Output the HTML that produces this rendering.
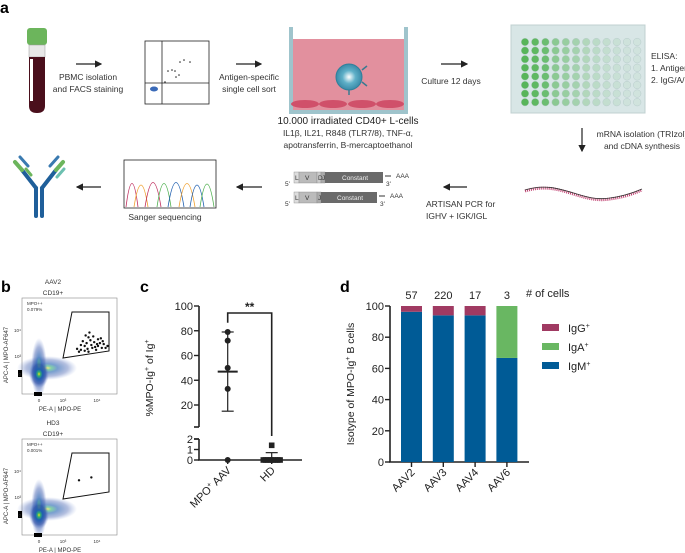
<!DOCTYPE html>
<html><head><meta charset="utf-8"><style>
html,body{margin:0;padding:0;background:#fff;}
svg{display:block;font-family:"Liberation Sans",Arial,sans-serif;}
</style></head><body>
<svg id="fig" width="685" height="553" viewBox="0 0 685 553">
<defs>
<marker id="ah" markerWidth="6" markerHeight="6" refX="5" refY="3" orient="auto"><path d="M0,0 L6,3 L0,6 z" fill="#222"/></marker>
<radialGradient id="blob" cx="50%" cy="50%" r="50%">
<stop offset="0" stop-color="#f0e020"/><stop offset="0.15" stop-color="#30b070"/><stop offset="0.35" stop-color="#1f5fb0"/><stop offset="0.7" stop-color="#3050a8" stop-opacity="0.6"/><stop offset="1" stop-color="#6080d0" stop-opacity="0"/></radialGradient>
<radialGradient id="cellg" cx="50%" cy="50%" r="50%"><stop offset="0" stop-color="#fff"/><stop offset="0.5" stop-color="#5fb0c8"/><stop offset="1" stop-color="#3a8aa8"/></radialGradient>
</defs>

<!-- Panel a -->
<text x="0" y="13" font-size="16" font-weight="bold">a</text>
<g>
<rect x="27" y="28" width="20" height="17" rx="3" fill="#6cb55c"/>
<rect x="29" y="45" width="16" height="12" fill="#e8e8e8" stroke="#999" stroke-width="0.5"/>
<path d="M29,57 L45,57 L45,106 Q45,113 37,113 Q29,113 29,106 Z" fill="#4a0f1c"/>
<rect x="30" y="59" width="3" height="42" fill="#fff"/>
</g>
<line x1="76" y1="64" x2="101" y2="64" stroke="#222" stroke-width="1.2" marker-end="url(#ah)"/>
<text x="88" y="80" font-size="8.5" text-anchor="middle" fill="#333"><tspan x="88">PBMC isolation</tspan><tspan x="88" dy="12">and FACS staining</tspan></text>
<g>
<rect x="145" y="41" width="64" height="63" fill="#fff" stroke="#222" stroke-width="0.8"/>
<line x1="162" y1="41" x2="162" y2="104" stroke="#222" stroke-width="0.8"/>
<line x1="145" y1="83" x2="209" y2="83" stroke="#222" stroke-width="0.8"/>
<ellipse cx="154" cy="89" rx="4" ry="2.5" fill="#3a6ab8"/>
<circle cx="168" cy="71" r="0.8" fill="#222"/><circle cx="172" cy="70" r="0.8" fill="#222"/><circle cx="175" cy="71" r="0.8" fill="#222"/><circle cx="180" cy="62" r="0.8" fill="#222"/><circle cx="184" cy="60" r="0.8" fill="#222"/><circle cx="179" cy="75" r="0.8" fill="#222"/><circle cx="176" cy="77" r="0.8" fill="#222"/><circle cx="190" cy="62" r="0.8" fill="#222"/><circle cx="165" cy="82" r="0.8" fill="#222"/>
</g>
<line x1="236" y1="64" x2="261" y2="64" stroke="#222" stroke-width="1.2" marker-end="url(#ah)"/>
<text font-size="8.5" text-anchor="middle" fill="#333"><tspan x="249" y="80">Antigen-specific</tspan><tspan x="249" dy="12">single cell sort</tspan></text>
<g>
<rect x="291" y="39" width="115" height="73" fill="#e2909e"/>
<path d="M291,27 L291,112 L406,112 L406,27" fill="none" stroke="#9fc4cc" stroke-width="4"/>
<ellipse cx="305" cy="104" rx="14" ry="4" fill="#d0506a"/><ellipse cx="333" cy="104" rx="14" ry="4" fill="#d0506a"/><ellipse cx="362" cy="104" rx="14" ry="4" fill="#d0506a"/><ellipse cx="390" cy="104" rx="14" ry="4" fill="#d0506a"/>
<circle cx="349" cy="77" r="13" fill="url(#cellg)" stroke="#2f7f9a" stroke-width="1"/>
<path d="M362,70 l5,-4 M362,82 l5,4 M349,90 l0,5" stroke="#3a7a90" stroke-width="1.5"/>
</g>
<text font-size="10" text-anchor="middle" fill="#222"><tspan x="348" y="124">10.000 irradiated CD40+ L-cells</tspan></text>
<text font-size="8.5" text-anchor="middle" fill="#333"><tspan x="348" y="136">IL1β, IL21, R848 (TLR7/8), TNF-α,</tspan><tspan x="348" dy="12">apotransferrin, B-mercaptoethanol</tspan></text>
<line x1="441" y1="64" x2="467" y2="64" stroke="#222" stroke-width="1.2" marker-end="url(#ah)"/>
<text x="451" y="84" font-size="8.5" text-anchor="middle" fill="#333">Culture 12 days</text>
<g id="plate"><rect x="511" y="25" width="134" height="88" fill="#d8e6e6" stroke="#c0d0d0"/></g>
<text font-size="8.5" fill="#333"><tspan x="651" y="59">ELISA:</tspan><tspan x="651" dy="12">1. Antigen</tspan><tspan x="651" dy="12">2. IgG/A/M</tspan></text>
<line x1="582" y1="128" x2="582" y2="151" stroke="#222" stroke-width="1.2" marker-end="url(#ah)"/>
<text font-size="8.5" text-anchor="middle" fill="#333"><tspan x="642" y="137">mRNA isolation (TRIzol)</tspan><tspan x="642" dy="12">and cDNA synthesis</tspan></text>
<path d="M525,191 C560,180 580,204 610,199 C625,197 635,193 642,190" fill="none" stroke="#c04070" stroke-width="3" stroke-dasharray="1 1"/>
<path d="M525,190 C560,179 580,203 610,198 C625,196 635,192 642,189" fill="none" stroke="#333" stroke-width="0.8"/>
<line x1="467" y1="187" x2="444" y2="187" stroke="#222" stroke-width="1.2" marker-end="url(#ah)"/>
<text font-size="8.5" fill="#333"><tspan x="426" y="207">ARTISAN PCR for</tspan><tspan x="426" dy="12">IGHV + IGK/IGL</tspan></text>
<g font-size="6.5" fill="#333">
<rect x="294" y="172" width="5" height="11" fill="#ddd" stroke="#888" stroke-width="0.4"/><rect x="299" y="172" width="18" height="11" fill="#bbb" stroke="#888" stroke-width="0.4"/><rect x="317" y="172" width="4" height="11" fill="#ccc" stroke="#888" stroke-width="0.4"/><rect x="321" y="172" width="4" height="11" fill="#aaa" stroke="#888" stroke-width="0.4"/><rect x="325" y="172" width="58" height="11" fill="#6a6a6a"/>
<text x="295" y="180">L</text><text x="305" y="180">V</text><text x="318" y="180">D</text><text x="322" y="180">J</text><text x="342" y="180" fill="#eee">Constant</text>
<text x="285" y="186">5'</text><text x="386" y="186">3'</text><text x="396" y="178">AAA</text><line x1="385" y1="176" x2="391" y2="176" stroke="#333"/>
<rect x="294" y="192" width="5" height="11" fill="#ddd" stroke="#888" stroke-width="0.4"/><rect x="299" y="192" width="18" height="11" fill="#bbb" stroke="#888" stroke-width="0.4"/><rect x="317" y="192" width="4" height="11" fill="#aaa" stroke="#888" stroke-width="0.4"/><rect x="321" y="192" width="56" height="11" fill="#6a6a6a"/>
<text x="295" y="200">L</text><text x="305" y="200">V</text><text x="318" y="200">J</text><text x="337" y="200" fill="#eee">Constant</text>
<text x="285" y="206">5'</text><text x="380" y="206">3'</text><text x="390" y="198">AAA</text><line x1="379" y1="196" x2="385" y2="196" stroke="#333"/>
</g>
<line x1="262" y1="187" x2="237" y2="187" stroke="#222" stroke-width="1.2" marker-end="url(#ah)"/>
<g>
<rect x="124" y="160" width="92" height="48" fill="#fff" stroke="#222" stroke-width="0.8"/>
<path d="M126,207 Q132,160 138,207" fill="none" stroke="#c03060" stroke-width="0.8"/>
<path d="M134,207 Q141,163 148,207" fill="none" stroke="#f0a030" stroke-width="0.8"/>
<path d="M145,207 Q153,158 161,207" fill="none" stroke="#c03060" stroke-width="0.8"/>
<path d="M157,207 Q164,160 171,207" fill="none" stroke="#50b050" stroke-width="0.8"/>
<path d="M168,207 Q176,158 184,207" fill="none" stroke="#2060b0" stroke-width="0.8"/>
<path d="M179,207 Q187,160 195,207" fill="none" stroke="#f0a030" stroke-width="0.8"/>
<path d="M190,207 Q197,163 204,207" fill="none" stroke="#2060b0" stroke-width="0.8"/>
<path d="M200,207 Q207,161 214,207" fill="none" stroke="#50b050" stroke-width="0.8"/>
</g>
<text x="165" y="220" font-size="8.5" text-anchor="middle" fill="#333">Sanger sequencing</text>
<line x1="101" y1="187" x2="77" y2="187" stroke="#222" stroke-width="1.2" marker-end="url(#ah)"/>
<g stroke-linecap="round">
<line x1="36" y1="188" x2="36" y2="216" stroke="#1f5f9a" stroke-width="4"/><line x1="42" y1="188" x2="42" y2="216" stroke="#1f5f9a" stroke-width="4"/>
<line x1="36" y1="188" x2="22" y2="170" stroke="#1f5f9a" stroke-width="4"/><line x1="42" y1="188" x2="56" y2="170" stroke="#1f5f9a" stroke-width="4"/>
<line x1="22" y1="170" x2="15" y2="162" stroke="#6cb55c" stroke-width="4"/><line x1="56" y1="170" x2="63" y2="162" stroke="#6cb55c" stroke-width="4"/>
<line x1="28" y1="166" x2="20" y2="157" stroke="#3a7ab0" stroke-width="3"/><line x1="50" y1="166" x2="58" y2="157" stroke="#3a7ab0" stroke-width="3"/>
<line x1="31" y1="175" x2="26" y2="169" stroke="#6cb55c" stroke-width="3"/><line x1="57" y1="177" x2="64" y2="169" stroke="#6cc0b0" stroke-width="3"/>
</g>

<!-- Panel b -->
<text x="1" y="292" font-size="16" font-weight="bold">b</text>
<g id="flowTop"></g>
<g id="flowBot"></g>

<!-- Panel c -->
<text x="140" y="292" font-size="16" font-weight="bold">c</text>
<g id="chartC"></g>

<!-- Panel d -->
<text x="340" y="292" font-size="16" font-weight="bold">d</text>
<g id="chartD"></g>
</svg>
<script>
// Panel c data
const cGroups = ["MPO⁺ AAV", "HD"];
const aavValues = [79, 72, 50, 33, 0];
const hdValues = [0, 0, 0, 0, 0, 0, 0, 0, 1.4];
const cMeans = [47, 0.15];
const cSdLow = [15, 0];
const cSdHigh = [79, 0.7];
const cUpperTicks = [100, 80, 60, 40, 20];
const cLowerTicks = [2, 1, 0];
// Panel d data
const dCategories = ["AAV2", "AAV3", "AAV4", "AAV6"];
const dCounts = ["57", "220", "17", "3"];
const igM = [96.3, 94, 94, 66.7];
const igA = [0, 0, 0, 33.3];
const igG = [3.7, 6, 6, 0];
const dTicks = [0, 20, 40, 60, 80, 100];
// Flow gate events (PE, APC in plot-relative units 0..1)
const gateEventsTop = [[0.62,0.46],[0.66,0.5],[0.7,0.44],[0.74,0.48],[0.78,0.46],[0.8,0.5],[0.84,0.48],[0.68,0.53],[0.72,0.56],[0.76,0.54],[0.82,0.53],[0.86,0.52],[0.64,0.55],[0.7,0.59],[0.88,0.48],[0.58,0.47],[0.75,0.6],[0.8,0.57],[0.66,0.45],[0.73,0.51],[0.79,0.52],[0.85,0.55],[0.69,0.47],[0.62,0.51],[0.9,0.5],[0.77,0.49],[0.71,0.64],[0.83,0.58],[0.67,0.61],[0.6,0.44]];
const gateEventsBot = [[0.6,0.57],[0.73,0.6]];

const NS = "http://www.w3.org/2000/svg";
function mk(parent, tag, attrs, text) {
  const e = document.createElementNS(NS, tag);
  for (const k in attrs) e.setAttribute(k, attrs[k]);
  if (text !== undefined) e.textContent = text;
  parent.appendChild(e);
  return e;
}

// ELISA plate wells
(function(){
  const g = document.getElementById('plate');
  const alphas = [1,0.95,0.85,0.6,0.5,0.4,0.3,0.22,0.16,0.12,0.08,0.06];
  for (let r = 0; r < 8; r++) for (let c = 0; c < 12; c++) {
    const w = mk(g, 'circle', {cx: 525 + c * 10.2, cy: 42 + r * 8.6, r: 3.8, fill: '#58b55a', 'fill-opacity': alphas[c], stroke: '#b8cccc', 'stroke-width': 0.5});
    
    
  }
})();

// Flow plots
function flow(gid, x0, y0, title, pct, events) {
  const g = document.getElementById(gid);
  const w = 95, h = 96;
  mk(g, 'text', {x: x0 + 31, y: y0 - 14, 'font-size': 6.5, 'text-anchor': 'middle', fill: '#333'}, title);
  mk(g, 'text', {x: x0 + 31, y: y0 - 3, 'font-size': 6.5, 'text-anchor': 'middle', fill: '#333'}, 'CD19+');
  mk(g, 'rect', {x: x0, y: y0, width: w, height: h, fill: '#fff', stroke: '#888', 'stroke-width': 0.6});
  mk(g, 'ellipse', {cx: x0 + 25, cy: y0 + 70, rx: 30, ry: 12, fill: 'url(#blob)', opacity: 0.6});
  mk(g, 'ellipse', {cx: x0 + 17, cy: y0 + 70, rx: 8, ry: 30, fill: 'url(#blob)', opacity: 0.7});
  mk(g, 'ellipse', {cx: x0 + 17, cy: y0 + 76, rx: 10, ry: 14, fill: 'url(#blob)'});
  mk(g, 'rect', {x: x0 - 4, y: y0 + 72, width: 4, height: 7, fill: '#000'});
  mk(g, 'rect', {x: x0 + 12, y: y0 + h - 2, width: 8, height: 4, fill: '#000'});
  mk(g, 'text', {x: x0 + 5, y: y0 + 7, 'font-size': 4.5, fill: '#333'}, 'MPO++');
  mk(g, 'text', {x: x0 + 5, y: y0 + 13, 'font-size': 4.5, fill: '#333'}, pct);
  const px = (u) => x0 + u * w, py = (v) => y0 + h - v * h;
  mk(g, 'path', {d: `M${x0+50},${y0+14} L${x0+87},${y0+14} L${x0+87},${y0+53} L${x0+41},${y0+60} Z`, fill: 'none', stroke: '#111', 'stroke-width': 1});
  events.forEach(p => {
    const d = mk(g, 'circle', {cx: px(p[0]), cy: py(p[1]), r: 1.2, fill: '#111'});
    
    
  });
  mk(g, 'text', {x: x0 - 1, y: y0 + 34, 'font-size': 4.5, 'text-anchor': 'end', fill: '#333'}, '10⁴');
  mk(g, 'text', {x: x0 - 1, y: y0 + 60, 'font-size': 4.5, 'text-anchor': 'end', fill: '#333'}, '10³');
  mk(g, 'text', {x: x0 - 1, y: y0 + 78, 'font-size': 4.5, 'text-anchor': 'end', fill: '#333'}, '0');
  mk(g, 'text', {x: x0 + 17, y: y0 + h + 8, 'font-size': 4.5, 'text-anchor': 'middle', fill: '#333'}, '0');
  mk(g, 'text', {x: x0 + 41, y: y0 + h + 8, 'font-size': 4.5, 'text-anchor': 'middle', fill: '#333'}, '10³');
  mk(g, 'text', {x: x0 + 75, y: y0 + h + 8, 'font-size': 4.5, 'text-anchor': 'middle', fill: '#333'}, '10⁴');
  mk(g, 'text', {x: x0 + 38, y: y0 + h + 17, 'font-size': 6, 'text-anchor': 'middle', fill: '#333'}, 'PE-A | MPO-PE');
  mk(g, 'text', {x: 0, y: 0, 'font-size': 6, 'text-anchor': 'middle', fill: '#333', transform: `translate(8,${y0 + 57}) rotate(-90)`}, 'APC-A | MPO-AF647');
}
flow('flowTop', 22, 298, 'AAV2', '0.079%', gateEventsTop);
flow('flowBot', 22, 439, 'HD3', '0.001%', gateEventsBot);

// Chart c
(function(){
  const g = document.getElementById('chartC');
  const ax = 199;
  const yU = v => 306 + (100 - v) * 1.2375;
  const yL = v => 460 - v * 10.5;
  const yv = v => v >= 3 ? yU(v) : yL(v);
  const xs = [227.7, 271.7];
  mk(g, 'line', {x1: ax, y1: 306, x2: ax, y2: 427, stroke: '#222', 'stroke-width': 1.6});
  mk(g, 'line', {x1: ax - 5, y1: 427, x2: ax, y2: 427, stroke: '#222', 'stroke-width': 1.6});
  mk(g, 'line', {x1: ax, y1: 439, x2: ax, y2: 460, stroke: '#222', 'stroke-width': 1.6});
  mk(g, 'line', {x1: ax - 5, y1: 439, x2: ax, y2: 439, stroke: '#222', 'stroke-width': 1.6});
  mk(g, 'line', {x1: ax - 1, y1: 460, x2: 302, y2: 460, stroke: '#222', 'stroke-width': 1.6});
  cUpperTicks.forEach(t => {
    mk(g, 'line', {x1: ax - 5, y1: yU(t), x2: ax, y2: yU(t), stroke: '#222', 'stroke-width': 1.4});
    const l = mk(g, 'text', {x: ax - 6, y: yU(t) + 4, 'font-size': 11, 'text-anchor': 'end', fill: '#222'}, String(t));
    
    
  });
  cLowerTicks.forEach(t => {
    mk(g, 'line', {x1: ax - 5, y1: yL(t), x2: ax, y2: yL(t), stroke: '#222', 'stroke-width': 1.4});
    const l = mk(g, 'text', {x: ax - 6, y: yL(t) + 4, 'font-size': 11, 'text-anchor': 'end', fill: '#222'}, String(t));
    
    
  });
  const yt = mk(g, 'text', {x: 0, y: 0, 'font-size': 10.5, 'text-anchor': 'middle', fill: '#222', transform: 'translate(153,378) rotate(-90)'});
  yt.innerHTML = '%MPO-Ig<tspan dy="-4" font-size="7">+</tspan><tspan dy="4"> of Ig</tspan><tspan dy="-4" font-size="7">+</tspan>';
  
  
  [0, 1].forEach(i => {
    const x = xs[i];
    mk(g, 'line', {x1: x, y1: yv(cSdLow[i]), x2: x, y2: yv(cSdHigh[i]), stroke: '#222', 'stroke-width': 1.2});
    mk(g, 'line', {x1: x - 6, y1: yv(cSdHigh[i]), x2: x + 6, y2: yv(cSdHigh[i]), stroke: '#222', 'stroke-width': 1.2});
    if (cSdLow[i] > 0) mk(g, 'line', {x1: x - 6, y1: yv(cSdLow[i]), x2: x + 6, y2: yv(cSdLow[i]), stroke: '#222', 'stroke-width': 1.2});
    const m = mk(g, 'line', {x1: x - 10, y1: yv(cMeans[i]), x2: x + 10, y2: yv(cMeans[i]), stroke: '#222', 'stroke-width': 2});
    
    
  });
  aavValues.forEach(v => {
    const p = mk(g, 'circle', {cx: xs[0], cy: yv(v), r: 3, fill: '#222'});
    
    
  });
  hdValues.forEach((v, k) => {
    const off = v > 0 ? 0 : (k - 3.5) * 2.4;
    const p = mk(g, 'rect', {x: xs[1] + off - 2.8, y: yv(v) - 2.8, width: 5.6, height: 5.6, fill: '#222'});
    
    
  });
  mk(g, 'path', {d: `M${xs[0]},322.7 L${xs[0]},313 L${xs[1]},313 L${xs[1]},436`, fill: 'none', stroke: '#222', 'stroke-width': 1.6});
  mk(g, 'text', {x: (xs[0] + xs[1]) / 2, y: 311, 'font-size': 12, 'font-weight': 'bold', 'text-anchor': 'middle', fill: '#222'}, '**');
  mk(g, 'line', {x1: xs[0], y1: 460, x2: xs[0], y2: 464, stroke: '#222', 'stroke-width': 1.4});
  mk(g, 'line', {x1: xs[1], y1: 460, x2: xs[1], y2: 464, stroke: '#222', 'stroke-width': 1.4});
  const l0 = mk(g, 'text', {x: 0, y: 0, 'font-size': 11, 'text-anchor': 'end', fill: '#222', transform: `translate(${xs[0] + 4},${471}) rotate(-45)`});
  l0.innerHTML = 'MPO<tspan dy="-4" font-size="7">+</tspan><tspan dy="4"> AAV</tspan>';
  
  
  const l1 = mk(g, 'text', {x: 0, y: 0, 'font-size': 11, 'text-anchor': 'end', fill: '#222', transform: `translate(${xs[1] + 4},${471}) rotate(-45)`}, cGroups[1]);
  
  
})();

// Chart d
(function(){
  const g = document.getElementById('chartD');
  const ax = 390, y0 = 462, y100 = 306;
  const y = v => y0 - v * (y0 - y100) / 100;
  const xc = i => 411.5 + i * 31.8;
  const bw = 21;
  mk(g, 'line', {x1: ax, y1: y100, x2: ax, y2: y0, stroke: '#222', 'stroke-width': 1.6});
  mk(g, 'line', {x1: ax - 1, y1: y0, x2: 529, y2: y0, stroke: '#222', 'stroke-width': 1.6});
  dTicks.forEach(t => {
    mk(g, 'line', {x1: ax - 5, y1: y(t), x2: ax, y2: y(t), stroke: '#222', 'stroke-width': 1.4});
    const l = mk(g, 'text', {x: ax - 6, y: y(t) + 4, 'font-size': 11, 'text-anchor': 'end', fill: '#222'}, String(t));
    
    
  });
  const yt = mk(g, 'text', {x: 0, y: 0, 'font-size': 10.5, 'text-anchor': 'middle', fill: '#222', transform: 'translate(354,384) rotate(-90)'});
  yt.innerHTML = 'Isotype of MPO-Ig<tspan dy="-4" font-size="7">+</tspan><tspan dy="4"> B cells</tspan>';
  
  
  dCategories.forEach((c, i) => {
    const x = xc(i) - bw / 2;
    let base = 0;
    [[igM, '#005b96', 'bar-igm'], [igA, '#69b762', 'bar-iga'], [igG, '#a03a62', 'bar-igg']].forEach(s => {
      const v = s[0][i];
      if (v > 0) {
        const r = mk(g, 'rect', {x: x, y: y(base + v), width: bw, height: y(base) - y(base + v), fill: s[1]});
        
        
      }
      base += v;
    });
    mk(g, 'line', {x1: xc(i), y1: y0, x2: xc(i), y2: y0 + 5, stroke: '#222', 'stroke-width': 1.4});
    const lab = mk(g, 'text', {x: 0, y: 0, 'font-size': 11, 'text-anchor': 'end', fill: '#222', transform: `translate(${xc(i) + 4},${473}) rotate(-45)`}, c);
    
    
    const cnt = mk(g, 'text', {x: xc(i), y: 299, 'font-size': 11, 'text-anchor': 'middle', fill: '#222'}, dCounts[i]);
    
    
  });
  mk(g, 'text', {x: 526, y: 297, 'font-size': 11, fill: '#222'}, '# of cells');
  [['IgG', '#a03a62', 328], ['IgA', '#69b762', 347], ['IgM', '#005b96', 366]].forEach(e => {
    const sw = mk(g, 'rect', {x: 542, y: e[2] - 4, width: 17, height: 7, fill: e[1]});
    
    
    const t = mk(g, 'text', {x: 568, y: e[2] + 4, 'font-size': 11, fill: '#222'});
    t.innerHTML = e[0] + '<tspan dy="-4" font-size="7">+</tspan>';
    
    
  });
})();
</script>
</body></html>
